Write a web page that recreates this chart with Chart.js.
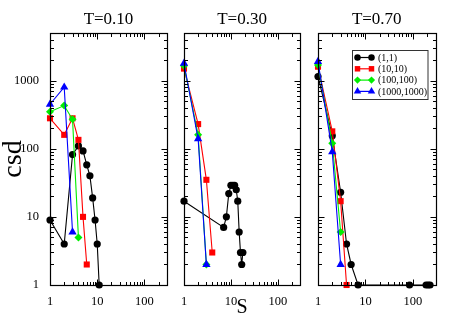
<!DOCTYPE html>
<html>
<head>
<meta charset="utf-8">
<script src="https://cdn.jsdelivr.net/npm/chart.js@4.4.1/dist/chart.umd.min.js"></script>
<style>
  html, body { margin: 0; padding: 0; background: #fff; }
  #wrap { position: relative; width: 474px; height: 335px; overflow: hidden; }
  canvas { position: absolute; top: 0; }
</style>
</head>
<body>
<div id="wrap">
  <canvas id="p1" style="left:0px" width="175" height="335"></canvas>
  <canvas id="p2" style="left:175px" width="130" height="335"></canvas>
  <canvas id="p3" style="left:309px" width="165" height="335"></canvas>
</div>
<script>
// Cluster size distributions (csd vs S) for three temperatures.
const seriesNames = ['(1,1)', '(10,10)', '(100,100)', '(1000,1000)'];
const panelTitles = ['T=0.10', 'T=0.30', 'T=0.70'];
const xTickValues = [1, 10, 100];
const yTickValues = [1, 10, 100, 1000];
const xRange = [1, 300];
const yRange = [1, 5000];

// T = 0.10
const t10_s11 = [1, 2, 3, 4, 5, 6, 7, 8, 9, 10, 11];
const t10_v11 = [9, 4, 82, 110, 93, 58, 40, 19, 9, 4, 1];
const t10_s10 = [1, 2, 3, 4, 5, 6];
const t10_v10 = [280, 160, 280, 135, 10, 2];
const t10_s100 = [1, 2, 3, 4];
const t10_v100 = [350, 430, 270, 5];
const t10_s1000 = [1, 2, 3];
const t10_v1000 = [450, 800, 6];

// T = 0.30
const t30_s11 = [1, 7, 8, 9, 10, 11, 12, 13, 14, 15, 16, 17, 18];
const t30_v11 = [17, 7, 10, 22, 29, 29, 29, 25, 17, 6, 3, 2, 3];
const t30_s10 = [1, 2, 3, 4];
const t30_v10 = [1500, 230, 35, 3];
const t30_s100 = [1, 2, 3];
const t30_v100 = [1650, 160, 2];
const t30_s1000 = [1, 2, 3];
const t30_v1000 = [1800, 140, 2];

// T = 0.70
const t70_s11 = [1, 2, 3, 4, 5, 7, 85, 190, 210, 230];
const t70_v11 = [1150, 155, 23, 4, 2, 1, 1, 1, 1, 1];
const t70_s10 = [1, 2, 3, 4];
const t70_v10 = [1600, 180, 17, 1];
const t70_s100 = [1, 2, 3];
const t70_v100 = [1700, 120, 6];
const t70_s1000 = [1, 2, 3];
const t70_v1000 = [1900, 90, 2];

const SERIF = '"Liberation Serif", "DejaVu Serif", serif';
const styles = [
  { color: '#000000', pointStyle: 'circle', radius: 3.6 },
  { color: '#ff0000', pointStyle: 'rect', radius: 4.3 },
  { color: '#00ee00', pointStyle: 'rectRot', radius: 4.0 },
  { color: '#0000ff', pointStyle: 'triangle', radius: 4.8 }
];

function pairs(xs, ys) { return xs.map((x, i) => ({ x: x, y: ys[i] })); }

function makeDatasets(groups) {
  return groups.map((g, i) => ({
    label: seriesNames[i],
    data: pairs(g[0], g[1]),
    // later series are painted over earlier ones
    order: groups.length - 1 - i,
    borderColor: styles[i].color,
    backgroundColor: styles[i].color,
    pointBackgroundColor: styles[i].color,
    pointBorderColor: styles[i].color,
    pointStyle: styles[i].pointStyle,
    pointRadius: styles[i].radius,
    pointBorderWidth: 0,
    borderWidth: 1.1,
    tension: 0,
    clip: false
  }));
}

// Minor/major tick values for a log axis between lo and hi
function logTicks(lo, hi) {
  const out = [];
  for (let e = Math.floor(Math.log10(lo)); e <= Math.ceil(Math.log10(hi)); e++) {
    for (let m = 1; m <= 9; m++) {
      const v = m * Math.pow(10, e);
      if (v >= lo - 1e-9 && v <= hi + 1e-9) out.push({ v: v, major: m === 1 });
    }
  }
  return out;
}

// Frame, inward ticks on all four sides, panel title and legend
const framePlugin = {
  id: 'frame',
  afterDraw(chart, args, opts) {
    const ctx = chart.ctx;
    const a = chart.chartArea;
    const xs = chart.scales.x, ys = chart.scales.y;
    ctx.save();
    ctx.strokeStyle = '#000';
    ctx.lineWidth = 1.2;
    const L = Math.round(a.left) + 0.5, R = Math.round(a.right) + 0.5;
    const T = Math.round(a.top) + 0.5, B = Math.round(a.bottom) + 0.5;
    ctx.strokeRect(L, T, R - L, B - T);
    ctx.lineWidth = 1;
    ctx.beginPath();
    logTicks(xRange[0], xRange[1]).forEach(t => {
      const px = Math.round(xs.getPixelForValue(t.v)) + 0.5;
      const len = t.major ? 6 : 3.5;
      ctx.moveTo(px, B); ctx.lineTo(px, B - len);
      ctx.moveTo(px, T); ctx.lineTo(px, T + len);
    });
    logTicks(yRange[0], yRange[1]).forEach(t => {
      const py = Math.round(ys.getPixelForValue(t.v)) + 0.5;
      const len = t.major ? 6 : 3.5;
      ctx.moveTo(L, py); ctx.lineTo(L + len, py);
      ctx.moveTo(R, py); ctx.lineTo(R - len, py);
    });
    ctx.stroke();

    ctx.fillStyle = '#000';
    ctx.font = '17px ' + SERIF;
    ctx.textAlign = 'center';
    ctx.textBaseline = 'middle';
    ctx.fillText(opts.title, (a.left + a.right) / 2, 20);

    if (opts.legend) {
      const bx = 352 - 309, by = 50, bw = 75.5, bh = 49;
      ctx.fillStyle = '#fff';
      ctx.fillRect(bx, by, bw, bh);
      ctx.strokeStyle = '#333';
      ctx.lineWidth = 1;
      ctx.strokeRect(bx + 0.5, by + 0.5, bw, bh);
      chart.data.datasets.forEach((ds, i) => {
        const yy = by + 7.5 + i * 11.3;
        const x1 = bx + 5.5, x2 = bx + 19.5;
        ctx.strokeStyle = ds.borderColor;
        ctx.lineWidth = 1.2;
        ctx.beginPath(); ctx.moveTo(x1, yy); ctx.lineTo(x2, yy); ctx.stroke();
        const po = { pointStyle: ds.pointStyle, radius: ds.pointRadius * 0.9, borderWidth: 0 };
        ctx.fillStyle = ds.backgroundColor;
        Chart.helpers.drawPoint(ctx, po, x1, yy);
        Chart.helpers.drawPoint(ctx, po, x2, yy);
        ctx.fillStyle = '#000';
        ctx.font = '10px ' + SERIF;
        ctx.textAlign = 'left';
        ctx.textBaseline = 'middle';
        ctx.fillText(ds.label, bx + 26, yy + 0.5);
      });
    }
    ctx.restore();
  }
};

function makePanel(id, groups, cfg) {
  new Chart(document.getElementById(id), {
    type: 'line',
    data: { datasets: makeDatasets(groups) },
    plugins: [framePlugin],
    options: {
      responsive: false,
      animation: false,
      devicePixelRatio: 1,
      layout: { padding: { top: 33, right: cfg.padRight, left: 0, bottom: 0 } },
      plugins: {
        legend: { display: false },
        tooltip: { enabled: false },
        frame: { title: cfg.title, legend: cfg.legend }
      },
      scales: {
        x: {
          type: 'logarithmic',
          min: xRange[0], max: xRange[1],
          grid: { display: false },
          border: { display: false },
          afterBuildTicks: s => { s.ticks = xTickValues.map(v => ({ value: v })); },
          afterFit: s => { s.height = 50; },
          ticks: {
            autoSkip: false, maxRotation: 0, padding: 1,
            color: '#000', font: { family: SERIF, size: 12.5 },
            callback: v => String(v)
          },
          title: {
            display: !!cfg.xTitle, text: cfg.xTitle || '',
            color: '#000', font: { family: SERIF, size: 20 },
            padding: { top: 0, bottom: 15 }
          }
        },
        y: {
          type: 'logarithmic',
          min: yRange[0], max: yRange[1],
          grid: { display: false },
          border: { display: false },
          afterBuildTicks: s => { s.ticks = yTickValues.map(v => ({ value: v })); },
          afterFit: s => { s.width = cfg.yWidth; },
          ticks: {
            display: cfg.yLabels, autoSkip: false, padding: 3,
            color: '#000', font: { family: SERIF, size: 12.5 },
            callback: v => String(v)
          },
          title: {
            display: !!cfg.yTitle, text: cfg.yTitle || '',
            color: '#000', font: { family: SERIF, size: 28, lineHeight: 1 },
            padding: 0
          }
        }
      }
    }
  });
}

makePanel('p1', [[t10_s11, t10_v11], [t10_s10, t10_v10], [t10_s100, t10_v100], [t10_s1000, t10_v1000]],
  { title: panelTitles[0], padRight: 8, yWidth: 50, yLabels: true, yTitle: 'csd', legend: false });
makePanel('p2', [[t30_s11, t30_v11], [t30_s10, t30_v10], [t30_s100, t30_v100], [t30_s1000, t30_v1000]],
  { title: panelTitles[1], padRight: 4, yWidth: 9, yLabels: false, xTitle: 'S', legend: false });
makePanel('p3', [[t70_s11, t70_v11], [t70_s10, t70_v10], [t70_s100, t70_v100], [t70_s1000, t70_v1000]],
  { title: panelTitles[2], padRight: 38.5, yWidth: 9, yLabels: false, legend: true });
</script>
</body>
</html>
